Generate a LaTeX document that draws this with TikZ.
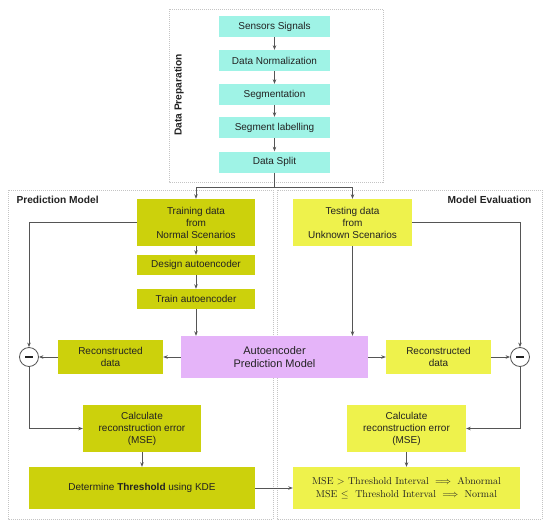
\documentclass[tikz,border=0pt]{standalone}
\usepackage{amsmath}
\usepackage[no-math]{fontspec}
\setmainfont{Liberation Sans}
\newfontfamily\lmrfont{Latin Modern Roman}
\usetikzlibrary{arrows.meta}
\definecolor{cyanbox}{HTML}{9FF3E6}
\definecolor{olivebox}{HTML}{CCD10C}
\definecolor{yellowbox}{HTML}{EEF24C}
\definecolor{purplebox}{HTML}{E5B4F9}
\definecolor{linegray}{HTML}{555555}
\definecolor{framegray}{HTML}{C4C4C4}
\definecolor{txt}{HTML}{222222}
\begin{document}
\begin{tikzpicture}[x=1pt,y=1pt,
  every node/.style={text=txt, font=\fontsize{10}{12}\selectfont},
  box/.style={draw=none, inner sep=1pt, align=center},
  cbox/.style={box, fill=cyanbox, minimum width=111, minimum height=21},
  obox/.style={box, fill=olivebox},
  ybox/.style={box, fill=yellowbox},
  frame/.style={draw=framegray, dash pattern=on 1pt off 1pt, line width=0.6pt},
  arr/.style={draw=linegray, line width=0.8pt, -{Stealth[length=4.5pt,width=3.5pt]}},
  ln/.style={draw=linegray, line width=0.8pt},
  minus/.style={circle, draw=linegray, fill=white, line width=0.8pt, minimum size=19, inner sep=0pt},
  lbl/.style={font=\fontsize{10.2}{12}\selectfont\bfseries}
]
\useasboundingbox (0,0) rectangle (550,-528);
% frames
\draw[frame] (169,-9) rectangle (383,-182);
\draw[frame] (8,-190) rectangle (273,-519);
\draw[frame] (277,-190) rectangle (542,-519);
\node[lbl, rotate=90] (dplab) at (179,-95) {Data Preparation};
\node[lbl, anchor=west] (pmlab) at (13,-200) {Prediction Model};
\node[lbl, anchor=east] (melab) at (535,-200) {Model Evaluation};
% data preparation
\node[cbox] (sens) at (274.5,-26.5) {Sensors Signals};
\node[cbox] (norm) at (274.5,-60.5) {Data Normalization};
\node[cbox] (seg) at (274.5,-94.5) {Segmentation};
\node[cbox] (lab) at (274.5,-127.5) {Segment labelling};
\node[cbox] (split) at (274.5,-162) {Data Split};
% prediction model
\node[obox, minimum width=118, minimum height=47] (train) at (196,-222.5) {Training data\\from\\Normal Scenarios};
\node[obox, minimum width=118, minimum height=20] (design) at (196,-265) {Design autoencoder};
\node[obox, minimum width=118, minimum height=20] (trainae) at (196,-299) {Train autoencoder};
\node[box, fill=purplebox, minimum width=187, minimum height=42, font=\fontsize{11}{13.5}\selectfont] (auto) at (274.5,-357) {Autoencoder\\Prediction Model};
\node[obox, minimum width=105, minimum height=34] (recL) at (110.5,-357) {Reconstructed\\data};
\node[minus] (cl) at (29,-357) {};
\node[obox, minimum width=118, minimum height=47] (calcL) at (142,-428.5) {Calculate\\reconstruction error\\(MSE)};
\node[obox, minimum width=226, minimum height=42] (det) at (142,-488) {Determine \textbf{Threshold} using KDE};
% model evaluation
\node[ybox, minimum width=119, minimum height=47] (test) at (352.5,-222.5) {Testing data\\from\\Unknown Scenarios};
\node[ybox, minimum width=105, minimum height=34] (recR) at (438.5,-357) {Reconstructed\\data};
\node[minus] (cr) at (520,-357) {};
\node[ybox, minimum width=119, minimum height=47] (calcR) at (406.5,-428.5) {Calculate\\reconstruction error\\(MSE)};
\node[ybox, minimum width=227, minimum height=42, font=\fontsize{10}{12.5}\selectfont\lmrfont] (mse) at (406.5,-488) {MSE $>$ Threshold Interval $\;\Longrightarrow\;$ Abnormal\\MSE $\leq$\ \ Threshold Interval $\;\Longrightarrow\;$ Normal};
% minus bars
\draw[line width=1.8pt, draw=txt] ([xshift=-4]cl.center) -- ([xshift=4]cl.center);
\draw[line width=1.8pt, draw=txt] ([xshift=-4]cr.center) -- ([xshift=4]cr.center);
% connectors
\draw[arr] (sens) -- (norm);
\draw[arr] (norm) -- (seg);
\draw[arr] (seg) -- (lab);
\draw[arr] (lab) -- (split);
\coordinate (br) at (274.5,-187);
\draw[ln] (split.south) -- (br);
\draw[arr] (br) -| (train.north);
\draw[arr] (br) -| (test.north);
\draw[arr] (train) -- (design);
\draw[arr] (design) -- (trainae);
\draw[arr] (trainae.south) -- (trainae.south |- auto.north);
\draw[arr] (train.west) -| (cl.north);
\draw[arr] (auto.west) -- (recL.east);
\draw[arr] (recL.west) -- (cl.east);
\draw[arr] (cl.south) |- (calcL.west);
\draw[arr] (calcL.south) -- (det.north);
\draw[arr] (det.east) -- (mse.west);
\draw[arr] (test.south) -- (test.south |- auto.north);
\draw[arr] (test.east) -| (cr.north);
\draw[arr] (auto.east) -- (recR.west);
\draw[arr] (recR.east) -- (cr.west);
\draw[arr] (cr.south) |- (calcR.east);
\draw[arr] (calcR.south) -- (mse.north);
\end{tikzpicture}
\end{document}
